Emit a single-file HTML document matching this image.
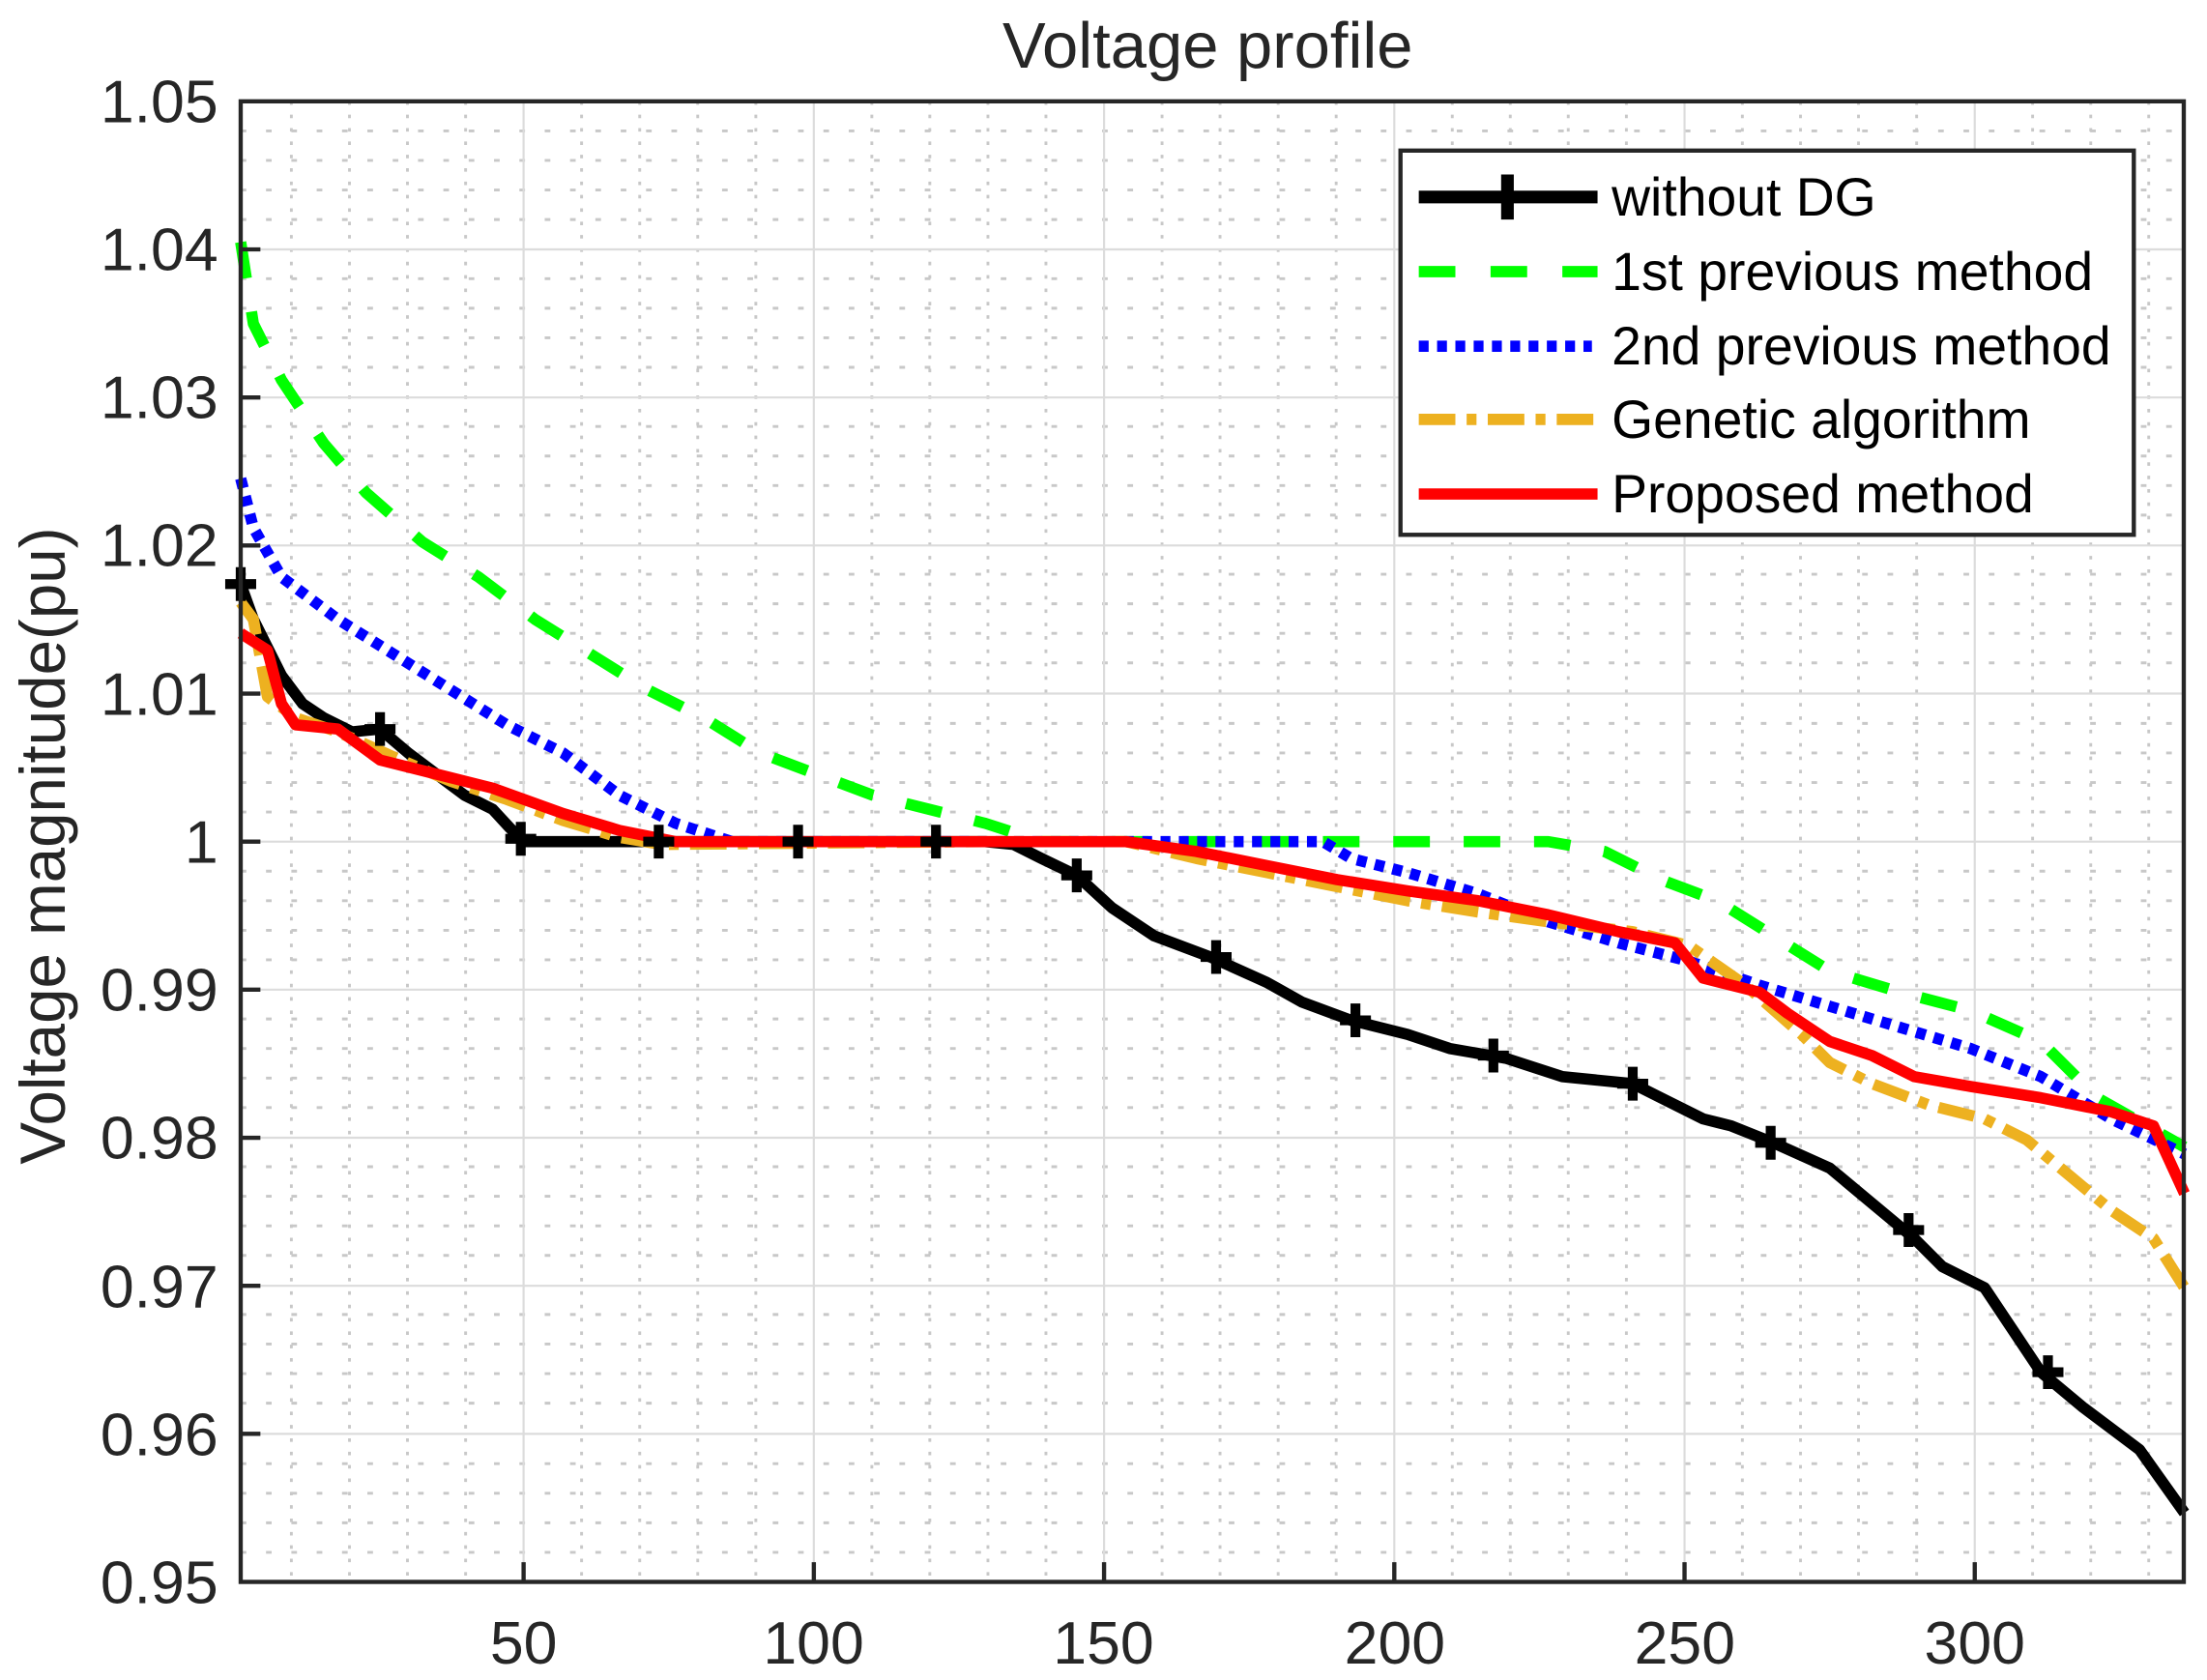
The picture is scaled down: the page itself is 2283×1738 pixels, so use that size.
<!DOCTYPE html>
<html><head><meta charset="utf-8"><style>html,body{margin:0;padding:0;background:#fff}svg{display:block}</style></head>
<body>
<svg width="2283" height="1738" viewBox="0 0 1568 1193.7" preserveAspectRatio="none" xmlns="http://www.w3.org/2000/svg" font-family="Liberation Sans, Arial, sans-serif">
<rect width="1568" height="1194" fill="#fff"/>
<g id="grid">
<g stroke="#c8c8c8" stroke-width="2" stroke-dasharray="2.5,7">
<line x1="207.0" y1="72" x2="207.0" y2="1124"/><line x1="248.3" y1="72" x2="248.3" y2="1124"/><line x1="289.5" y1="72" x2="289.5" y2="1124"/><line x1="330.8" y1="72" x2="330.8" y2="1124"/>
<line x1="413.2" y1="72" x2="413.2" y2="1124"/><line x1="454.5" y1="72" x2="454.5" y2="1124"/><line x1="495.7" y1="72" x2="495.7" y2="1124"/><line x1="537.0" y1="72" x2="537.0" y2="1124"/>
<line x1="619.4" y1="72" x2="619.4" y2="1124"/><line x1="660.6" y1="72" x2="660.6" y2="1124"/><line x1="701.9" y1="72" x2="701.9" y2="1124"/><line x1="743.1" y1="72" x2="743.1" y2="1124"/>
<line x1="825.6" y1="72" x2="825.6" y2="1124"/><line x1="866.8" y1="72" x2="866.8" y2="1124"/><line x1="908.1" y1="72" x2="908.1" y2="1124"/><line x1="949.3" y1="72" x2="949.3" y2="1124"/>
<line x1="1031.8" y1="72" x2="1031.8" y2="1124"/><line x1="1073.0" y1="72" x2="1073.0" y2="1124"/><line x1="1114.2" y1="72" x2="1114.2" y2="1124"/><line x1="1155.5" y1="72" x2="1155.5" y2="1124"/>
<line x1="1237.9" y1="72" x2="1237.9" y2="1124"/><line x1="1279.2" y1="72" x2="1279.2" y2="1124"/><line x1="1320.4" y1="72" x2="1320.4" y2="1124"/><line x1="1361.7" y1="72" x2="1361.7" y2="1124"/>
<line x1="1444.1" y1="72" x2="1444.1" y2="1124"/><line x1="1485.4" y1="72" x2="1485.4" y2="1124"/><line x1="1526.6" y1="72" x2="1526.6" y2="1124"/>
</g>
<g stroke="#c8c8c8" stroke-width="2" stroke-dasharray="4,14">
<path d="M171 93H1551M171 114H1551M171 135H1551M171 156H1551
M171 198H1551M171 219H1551M171 240H1551M171 261H1551
M171 303H1551M171 324H1551M171 345H1551M171 366H1551
M171 408H1551M171 429H1551M171 450H1551M171 471H1551
M171 514H1551M171 535H1551M171 556H1551M171 577H1551
M171 619H1551M171 640H1551M171 661H1551M171 682H1551
M171 724H1551M171 745H1551M171 766H1551M171 787H1551
M171 829H1551M171 850H1551M171 871H1551M171 892H1551
M171 934H1551M171 955H1551M171 976H1551M171 997H1551
M171 1040H1551M171 1061H1551M171 1082H1551M171 1103H1551"/>
</g>
<g stroke="#dcdcdc" stroke-width="1.5">
<path d="M372 72V1124M578.2 72V1124M784.4 72V1124M990.6 72V1124M1196.8 72V1124M1403 72V1124"/>
<path d="M171 177.2H1551M171 282.4H1551M171 387.6H1551M171 492.8H1551M171 598H1551M171 703.2H1551M171 808.4H1551M171 913.6H1551M171 1018.8H1551"/>
</g>
</g>
<g fill="none" stroke-linejoin="round">
<polyline stroke="#000" stroke-width="8" points="171,415 180,440 190,460 200,480 215,500 230,510 250,520 270,518 290,535 310,550 330,565 350,575 362,588 372,598 400,598 470,598 700,598 720,600 740,610 765,622 790,645 820,665 860,680 900,698 925,712 960,725 1000,735 1030,745 1070,752 1110,765 1160,770 1180,780 1210,795 1230,800 1260,812 1300,830 1330,855 1360,880 1380,900 1410,915 1430,945 1450,975 1480,1000 1520,1030 1552,1075"/>
<polyline stroke="#00ff00" stroke-width="8" stroke-dasharray="26,24" points="171,172 180,230 200,270 230,315 260,350 300,385 340,410 380,440 420,465 460,490 500,510 540,535 580,550 620,565 660,575 700,585 740,598 1100,598 1140,605 1180,625 1220,640 1260,665 1300,690 1350,705 1400,718 1450,740 1490,780 1552,815"/>
<polyline stroke="#0000ff" stroke-width="8" stroke-dasharray="7,6" points="171,340 180,375 200,410 240,440 280,465 320,490 360,515 400,535 440,565 480,585 520,598 940,598 960,610 1000,620 1050,635 1100,655 1150,670 1200,683 1250,700 1300,715 1350,730 1400,745 1450,765 1500,795 1552,820"/>
<polyline stroke="#edb120" stroke-width="8" stroke-dasharray="26,8,7,8" points="171,428 180,440 190,495 210,510 240,520 280,538 320,555 360,568 400,583 440,595 470,600 700,598 800,598 850,610 900,620 950,630 1000,640 1050,648 1100,655 1160,662 1200,672 1240,700 1280,735 1300,755 1330,770 1370,785 1410,795 1440,810 1470,835 1500,860 1530,880 1552,915"/>
<polyline stroke="#ff0000" stroke-width="8" points="171,450 190,462 200,500 210,515 240,518 270,540 310,550 350,560 400,578 440,590 480,598 800,598 850,605 900,615 950,625 1000,633 1050,640 1100,650 1150,662 1190,670 1210,695 1250,705 1270,720 1300,740 1330,750 1360,765 1400,772 1450,780 1500,790 1530,800 1552,848"/>
</g>
<g stroke="#000" stroke-width="7">
<path d="M171 403v24M160 415h22 M270 506v24M259 518h22 M370 584v24M359 596h22 M468 586v24M457 598h22 M567 586v24M556 598h22 M665 586v24M654 598h22 M765 610v24M754 622h22 M864 668v24M853 680h22 M963 713v24M952 725h22 M1061 738v24M1050 750h22 M1160 758v24M1149 770h22 M1258 800v24M1247 812h22 M1356 862v24M1345 874h22 M1455 963v24M1444 975h22"/>
</g>
<rect x="171" y="72" width="1380.5" height="1052" fill="none" stroke="#262626" stroke-width="3"/>
<g stroke="#262626" stroke-width="3">
<path d="M372 1124v-14M578.2 1124v-14M784.4 1124v-14M990.6 1124v-14M1196.8 1124v-14M1403 1124v-14"/>
<path d="M171 177.2h14M171 282.4h14M171 387.6h14M171 492.8h14M171 598h14M171 703.2h14M171 808.4h14M171 913.6h14M171 1018.8h14"/>
</g>
<g fill="#262626" font-size="43" text-anchor="end">
<text x="155" y="87">1.05</text><text x="155" y="192">1.04</text><text x="155" y="297">1.03</text><text x="155" y="402">1.02</text><text x="155" y="508">1.01</text><text x="155" y="613">1</text><text x="155" y="718">0.99</text><text x="155" y="823">0.98</text><text x="155" y="929">0.97</text><text x="155" y="1034">0.96</text><text x="155" y="1139">0.95</text>
</g>
<g fill="#262626" font-size="43" text-anchor="middle">
<text x="372" y="1182">50</text><text x="578" y="1182">100</text><text x="784" y="1182">150</text><text x="991" y="1182">200</text><text x="1197" y="1182">250</text><text x="1403" y="1182">300</text>
<text x="858" y="48" font-size="46">Voltage profile</text>
<text transform="translate(46,601) rotate(-90)" font-size="45">Voltage magnitude(pu)</text>
</g>
<rect x="995" y="107" width="521" height="273" fill="#fff" stroke="#262626" stroke-width="3"/>
<g stroke-width="8" fill="none">
<path d="M1008 140H1135" stroke="#000" stroke-width="9"/><path d="M1071 124v32" stroke="#000" stroke-width="9"/>
<path d="M1008 193H1135" stroke="#00ff00" stroke-dasharray="26,25"/>
<path d="M1008 246H1131" stroke="#0000ff" stroke-dasharray="7,6"/>
<path d="M1008 298H1135" stroke="#edb120" stroke-dasharray="26,8,7,8"/>
<path d="M1008 351H1135" stroke="#ff0000"/>
</g>
<g font-size="38" fill="#000">
<text x="1145" y="153">without DG</text><text x="1145" y="206">1st previous method</text><text x="1145" y="259">2nd previous method</text><text x="1145" y="311">Genetic algorithm</text><text x="1145" y="364">Proposed method</text>
</g>
</svg>
</body></html>
